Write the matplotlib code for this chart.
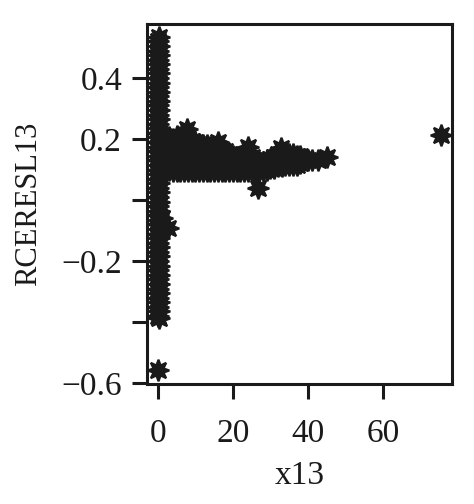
#!/usr/bin/env python3
"""Residuals of RCERESL13 against x13, star markers on a framed axis."""
import matplotlib
matplotlib.use("Agg")
import matplotlib.pyplot as plt

plt.rcParams["font.family"] = ["Liberation Serif", "DejaVu Serif"]

# vertical spine of points at x13 close to zero
spine_y = [0.534, 0.52, 0.505, 0.49, 0.475, 0.46, 0.445, 0.43, 0.415, 0.40, 0.385, 0.37,
           0.355, 0.34, 0.325, 0.31, 0.295, 0.28, 0.265, 0.25, 0.235, 0.22, 0.205, 0.19,
           0.175, 0.16, 0.145, 0.13, 0.115, 0.10, 0.085, 0.07, 0.055, 0.04, 0.025, 0.01,
           -0.005, -0.02, -0.035, -0.05, -0.065, -0.08, -0.095, -0.11, -0.125, -0.14,
           -0.155, -0.17, -0.185, -0.20, -0.215, -0.23, -0.245, -0.26, -0.275, -0.29,
           -0.305, -0.32, -0.335, -0.35, -0.365, -0.38, -0.387]
spine_x = [0.3, 0.1, 0.3, 0.0, 0.3, 0.1, 0.3, 0.0, 0.3, 0.1, 0.3, 0.0, 0.3, 0.1, 0.3, 0.0,
           0.3, 0.1, 0.3, 0.0, 0.3, 0.1, 0.3, 0.0, 0.3, 0.1, 0.3, 0.0, 0.3, 0.1, 0.3, 0.0,
           0.3, 0.1, 0.3, 0.0, 0.3, 0.1, 0.3, 0.0, 0.3, 0.1, 0.3, 0.0, 0.3, 0.1, 0.3, 0.0,
           0.3, 0.1, 0.3, 0.0, 0.3, 0.1, 0.3, 0.0, 0.3, 0.1, 0.3, 0.0, 0.3, 0.1, 0.3]

# horizontal arm of points reaching out along x13
arm_x = [1, 1, 1, 2, 2, 2, 3, 3, 3, 4, 4, 4, 5, 5, 5, 6, 6, 6, 7, 7, 7, 8, 8, 8,
         9, 9, 9, 10, 10, 10, 11, 11, 11, 12, 12, 12, 13, 13, 13, 14, 14, 14,
         15, 15, 15, 16, 16, 16, 17, 17, 17, 18, 18, 18, 19, 19, 20, 20, 21, 21,
         22, 22, 23, 23, 24, 24, 25, 25, 26, 26, 27, 27, 28, 28, 29, 29, 30, 30,
         31, 31, 32, 32, 33, 33, 34, 34, 35, 35, 36, 36, 37, 37, 38, 38, 39, 40,
         41, 42.7, 45, 7.7, 16, 24, 32.8]
arm_y = [0.20, 0.15, 0.10, 0.20, 0.15, 0.10, 0.205, 0.15, 0.10, 0.20, 0.15, 0.095,
         0.21, 0.15, 0.095, 0.205, 0.15, 0.095, 0.215, 0.15, 0.095, 0.20, 0.15, 0.095,
         0.195, 0.145, 0.095, 0.19, 0.14, 0.095, 0.185, 0.14, 0.095, 0.18, 0.135, 0.095,
         0.18, 0.135, 0.095, 0.175, 0.13, 0.095, 0.17, 0.13, 0.095, 0.17, 0.13, 0.095,
         0.165, 0.125, 0.095, 0.16, 0.125, 0.095, 0.15, 0.095, 0.145, 0.095, 0.14, 0.095,
         0.14, 0.095, 0.145, 0.095, 0.15, 0.095, 0.14, 0.095, 0.13, 0.095, 0.125, 0.095,
         0.125, 0.10, 0.13, 0.10, 0.135, 0.105, 0.14, 0.105, 0.15, 0.11, 0.15, 0.11,
         0.15, 0.115, 0.15, 0.115, 0.15, 0.115, 0.145, 0.115, 0.145, 0.12, 0.135, 0.13,
         0.13, 0.13, 0.14, 0.233, 0.19, 0.174, 0.17]

# isolated points
outlier_x = [75.6, 26.7, 2.7, 1.2, 0.0]
outlier_y = [0.213, 0.04, -0.092, -0.06, -0.557]

xticks = [0, 20, 40, 60]
yticks = [-0.6, -0.4, -0.2, 0.0, 0.2, 0.4]
yticklabels = ["\u22120.6", "", "\u22120.2", "", "0.2", "0.4"]

fig = plt.figure(figsize=(4.74, 5.04), dpi=100)
ax = fig.add_axes([147 / 474, 1 - 384 / 504, 305 / 474, 360 / 504])

color = "#1a1a1a"
for xs, ys in [(spine_x, spine_y), (arm_x, arm_y), (outlier_x, outlier_y)]:
    ax.plot(xs, ys, ls="none", marker=(8, 1, 0), ms=15.5, color=color, mew=1.6, clip_on=True)

ax.set_xlim(-2.9, 78.4)
ax.set_ylim(-0.603, 0.577)
ax.set_xticks(xticks)
ax.set_yticks(yticks)
ax.set_yticklabels(yticklabels)
ax.tick_params(length=11, width=2.2, labelsize=24, color=color, labelcolor=color, pad=7)
ax.tick_params(axis="x", pad=14)
for spine in ax.spines.values():
    spine.set_linewidth(2.2)
    spine.set_color(color)

ax.set_xlabel("x13", fontsize=24, color=color, labelpad=8)
ax.set_ylabel("RCERESL13", fontsize=22, color=color, labelpad=13)

fig.savefig("out.png", dpi=100)
